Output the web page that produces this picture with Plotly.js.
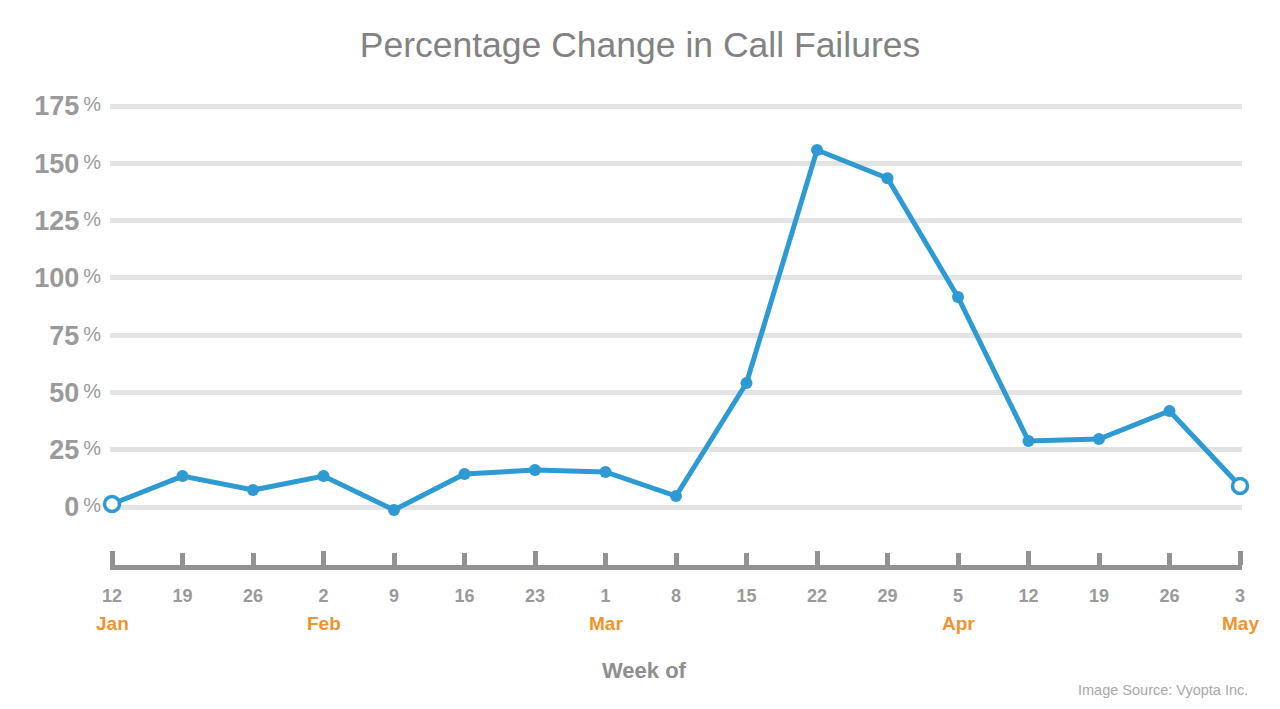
<!DOCTYPE html>
<html>
<head>
<meta charset="utf-8">
<script src="https://cdn.plot.ly/plotly-3.0.1.min.js"></script>
<style>html,body{margin:0;padding:0;background:#fff;}#chart{width:1280px;height:709px;}</style>
</head>
<body>
<div id="chart"></div>
<script>
const weekDays = ["12","19","26","2","9","16","23","1","8","15","22","29","5","12","19","26","3"];
const monthLabels = ["Jan","Feb","Mar","Apr","May"];
const monthIndex = [0,3,7,12,16];
const majorTickIndex = [0,3,6,10,13,16];
const pctChange = [1.3,13.5,7.4,13.5,-1.3,14.4,16.1,15.3,4.8,54.1,155.8,143.5,91.6,28.8,29.7,41.9,9.2];
const yTicks = [0,25,50,75,100,125,150,175];

const W = 1280, H = 709;
const M = {l:110, r:38, t:95, b:144};
const xIdx = weekDays.map((d,i)=>i);
const n = pctChange.length;
const blue = '#2D9AD3';
const font = 'Liberation Sans, Arial, Helvetica, sans-serif';
const xPad = 2/70.5;
const xRange = [-xPad, 16 + xPad];

const markerColor = pctChange.map((v,i)=> (i===0||i===n-1) ? '#ffffff' : blue);
const markerSize = pctChange.map((v,i)=> (i===0||i===n-1) ? 15 : 12);
const markerLineW = pctChange.map((v,i)=> (i===0||i===n-1) ? 3.5 : 0);

const traces = [
  {
    x: xIdx, y: pctChange, type:'scatter', mode:'lines+markers',
    line:{color:blue, width:5},
    marker:{color:markerColor, size:markerSize, opacity:1, line:{color:blue, width:markerLineW}},
    cliponaxis:false, hoverinfo:'skip', showlegend:false
  },
  {
    x: majorTickIndex, y: majorTickIndex.map(()=>null), xaxis:'x2', yaxis:'y',
    type:'scatter', mode:'markers', hoverinfo:'skip', showlegend:false
  }
];

const centerPaperX = (W/2 - M.l)/(W - M.l - M.r);

const annotations = monthLabels.map((m,i)=>({
  text:'<b>'+m+'</b>', x: monthIndex[i], xref:'x', y:0, yref:'paper',
  yshift:-58, yanchor:'middle', xanchor:'center', showarrow:false,
  font:{family:font, size:19, color:'#F0932B'}
}));
annotations.push({
  text:'<b>Week of</b>', xref:'paper', x:centerPaperX, xshift:4, xanchor:'center',
  yref:'paper', y:0, yshift:-105, yanchor:'middle', showarrow:false,
  font:{family:font, size:22, color:'#8e8e8e'}
});
annotations.push({
  text:'Image Source: Vyopta Inc.', xref:'paper', x:1, xanchor:'right', xshift:8,
  yref:'paper', y:0, yshift:-125, yanchor:'middle', showarrow:false,
  font:{family:font, size:14.5, color:'#a8a8a8'}
});

const layout = {
  width:W, height:H,
  margin:M,
  paper_bgcolor:'#ffffff', plot_bgcolor:'#ffffff',
  title:{text:'Percentage Change in Call Failures', x:0.5, xref:'container', xanchor:'center',
    y:1-45/H, yref:'container', yanchor:'middle',
    font:{family:font, size:35.5, color:'#828282'}},
  xaxis:{
    range:xRange, tickmode:'array', tickvals:xIdx, ticktext:weekDays.map(d=>'<b>'+d+'</b>'),
    ticks:'inside', ticklen:12, tickwidth:5, tickcolor:'#929292',
    showline:true, linecolor:'#929292', linewidth:5, showgrid:false, zeroline:false,
    ticklabelstandoff:10,
    tickfont:{family:font, size:18, color:'#9a9a9a'},
    fixedrange:true
  },
  xaxis2:{
    range:xRange, overlaying:'x', anchor:'y', side:'bottom', tickmode:'array', tickvals:majorTickIndex,
    ticks:'inside', ticklen:14, tickwidth:5, tickcolor:'#929292', showticklabels:false,
    showline:false, showgrid:false, zeroline:false, fixedrange:true
  },
  yaxis:{
    range:[-25.31,179.8], tickmode:'array', tickvals:yTicks,
    ticktext:yTicks.map(v=>'<b>'+v+'</b><span style="font-size:20px;font-weight:normal;baseline-shift:4px">\u2009%</span>'),
    showgrid:true, gridcolor:'#e3e3e3', gridwidth:5, zeroline:false, showline:false,
    ticks:'', ticklabelstandoff:8,
    tickfont:{family:font, size:27, color:'#9a9a9a'},
    fixedrange:true
  },
  annotations: annotations,
  showlegend:false
};

Plotly.newPlot('chart', traces, layout, {displayModeBar:false, staticPlot:true});
</script>
</body>
</html>
